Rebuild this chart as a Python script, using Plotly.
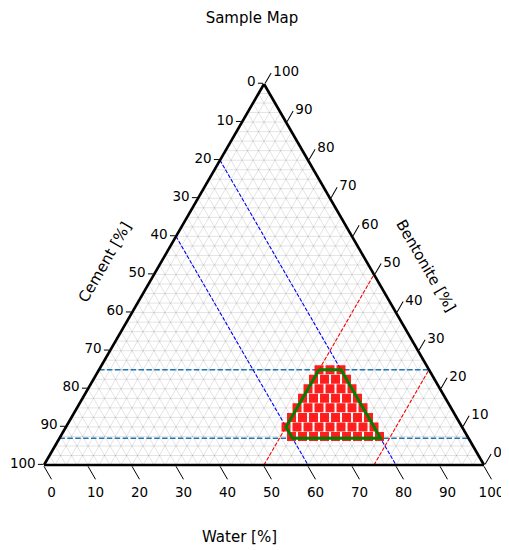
import plotly.graph_objects as go

# ---------------- data ----------------
tick_values = [0, 10, 20, 30, 40, 50, 60, 70, 80, 90, 100]
grid_step = 2.5

# dashed limit lines
bentonite_limits = [25, 7]     # horizontal lines (constant bentonite)
cement_limits = [20, 40]       # blue lines (constant cement)
water_limits = [50, 75]        # red lines (constant water)

# sample region outline (bentonite, water) -> cement = 100 - b - w
region_bentonite = [25, 25, 7, 7, 10, 25]
region_water = [50, 55, 73, 53, 50, 50]

# sample points, by row of bentonite content
sample_bentonite_rows = [25, 22.5, 20, 17.5, 15, 12.5, 10, 7.5]
sample_water_rows = [
    [50, 52.5, 55],
    [50, 52.5, 55, 57.5],
    [50, 52.5, 55, 57.5, 60],
    [50, 52.5, 55, 57.5, 60, 62.5],
    [50, 52.5, 55, 57.5, 60, 62.5, 65],
    [50, 52.5, 55, 57.5, 60, 62.5, 65, 67.5],
    [50, 52.5, 55, 57.5, 60, 62.5, 65, 67.5, 70],
    [52.5, 55, 57.5, 60, 62.5, 65, 67.5, 70, 72.5],
]

FONT = "DejaVu Sans"
fig = go.Figure()

# ---------------- grid ----------------
levels = []
v = grid_step
while v < 100 - 1e-9:
    levels.append(v)
    v += grid_step

def seg_trace(a, b, c, **kw):
    return go.Scatterternary(a=a, b=b, c=c, mode="lines", hoverinfo="skip",
                             showlegend=False, **kw)

grid_kw = dict(line=dict(color="rgba(0,0,0,0.16)", width=0.7))
A, B, C = [], [], []
for g in levels:
    A += [g, g, None]; B += [100 - g, 0, None]; C += [0, 100 - g, None]
fig.add_trace(seg_trace(A, B, C, **grid_kw))
A, B, C = [], [], []
for g in levels:
    A += [100 - g, 0, None]; B += [g, g, None]; C += [0, 100 - g, None]
fig.add_trace(seg_trace(A, B, C, **grid_kw))
A, B, C = [], [], []
for g in levels:
    A += [100 - g, 0, None]; B += [0, 100 - g, None]; C += [g, g, None]
fig.add_trace(seg_trace(A, B, C, **grid_kw))

# ---------------- limit lines ----------------
for bl in bentonite_limits:
    fig.add_trace(seg_trace([bl, bl], [100 - bl, 0], [0, 100 - bl],
                            line=dict(color="#1f77b4", width=1.5, dash="5.5px,2.4px")))
for cl in cement_limits:
    fig.add_trace(seg_trace([100 - cl, 0], [cl, cl], [0, 100 - cl],
                            line=dict(color="blue", width=1.1, dash="3.7px,1.8px")))
for wl in water_limits:
    fig.add_trace(seg_trace([0, 100 - wl], [100 - wl, 0], [wl, wl],
                            line=dict(color="red", width=1.1, dash="3.7px,1.8px")))

# ---------------- samples ----------------
sa, sb, sc = [], [], []
for bent, waters in zip(sample_bentonite_rows, sample_water_rows):
    for w in waters:
        sa.append(bent); sc.append(w); sb.append(100 - bent - w)
fig.add_trace(go.Scatterternary(a=sa, b=sb, c=sc, mode="markers", showlegend=False,
                                marker=dict(symbol="square", size=9, color="red",
                                            opacity=0.88, line=dict(width=0))))

# ---------------- region outline ----------------
fig.add_trace(seg_trace(region_bentonite,
                        [100 - b - w for b, w in zip(region_bentonite, region_water)],
                        region_water,
                        line=dict(color="green", width=3)))

# ---------------- axes ----------------
def axis(texts, ticklen):
    return dict(title=dict(text=""), tickmode="array", tickvals=tick_values,
                ticktext=texts, ticks="outside", ticklen=ticklen, tickwidth=1.3,
                tickcolor="black", tickfont=dict(family=FONT, size=13.5, color="black"),
                showgrid=False, showline=True, linecolor="black", linewidth=2.6,
                layer="above traces")

rev = [str(100 - t) for t in tick_values]
fig.update_layout(
    width=501, height=542,
    margin=dict(l=0, r=0, t=0, b=0),
    paper_bgcolor="white",
    font=dict(family=FONT, color="black"),
    showlegend=False,
    title=dict(text="Sample Map", x=0.487, xanchor="center", y=0.9815, yanchor="middle",
               font=dict(family=FONT, size=15, color="black")),
    ternary=dict(
        sum=100,
        bgcolor="white",
        domain=dict(x=[0.0719, 0.9501], y=[0.1483, 0.8683]),
        aaxis=axis(rev, 5),    # bentonite (top); labels on left edge show cement
        baxis=axis(rev, 15),   # cement (bottom-left); labels on bottom show water
        caxis=axis(rev, 12),   # water (bottom-right); labels on right show bentonite
    ),
    annotations=[
        dict(text="Water [%]", x=0.463, y=0.024, xref="paper", yref="paper",
             xanchor="center", yanchor="middle", showarrow=False,
             font=dict(family=FONT, size=15, color="black")),
        dict(text="Cement [%]", x=0.1936, y=0.5314, xref="paper", yref="paper",
             xanchor="center", yanchor="middle", showarrow=False, textangle=-60,
             font=dict(family=FONT, size=15, color="black")),
        dict(text="Bentonite [%]", x=0.8343, y=0.524, xref="paper", yref="paper",
             xanchor="center", yanchor="middle", showarrow=False, textangle=60,
             font=dict(family=FONT, size=15, color="black")),
    ],
)

fig.write_html("out.html")
